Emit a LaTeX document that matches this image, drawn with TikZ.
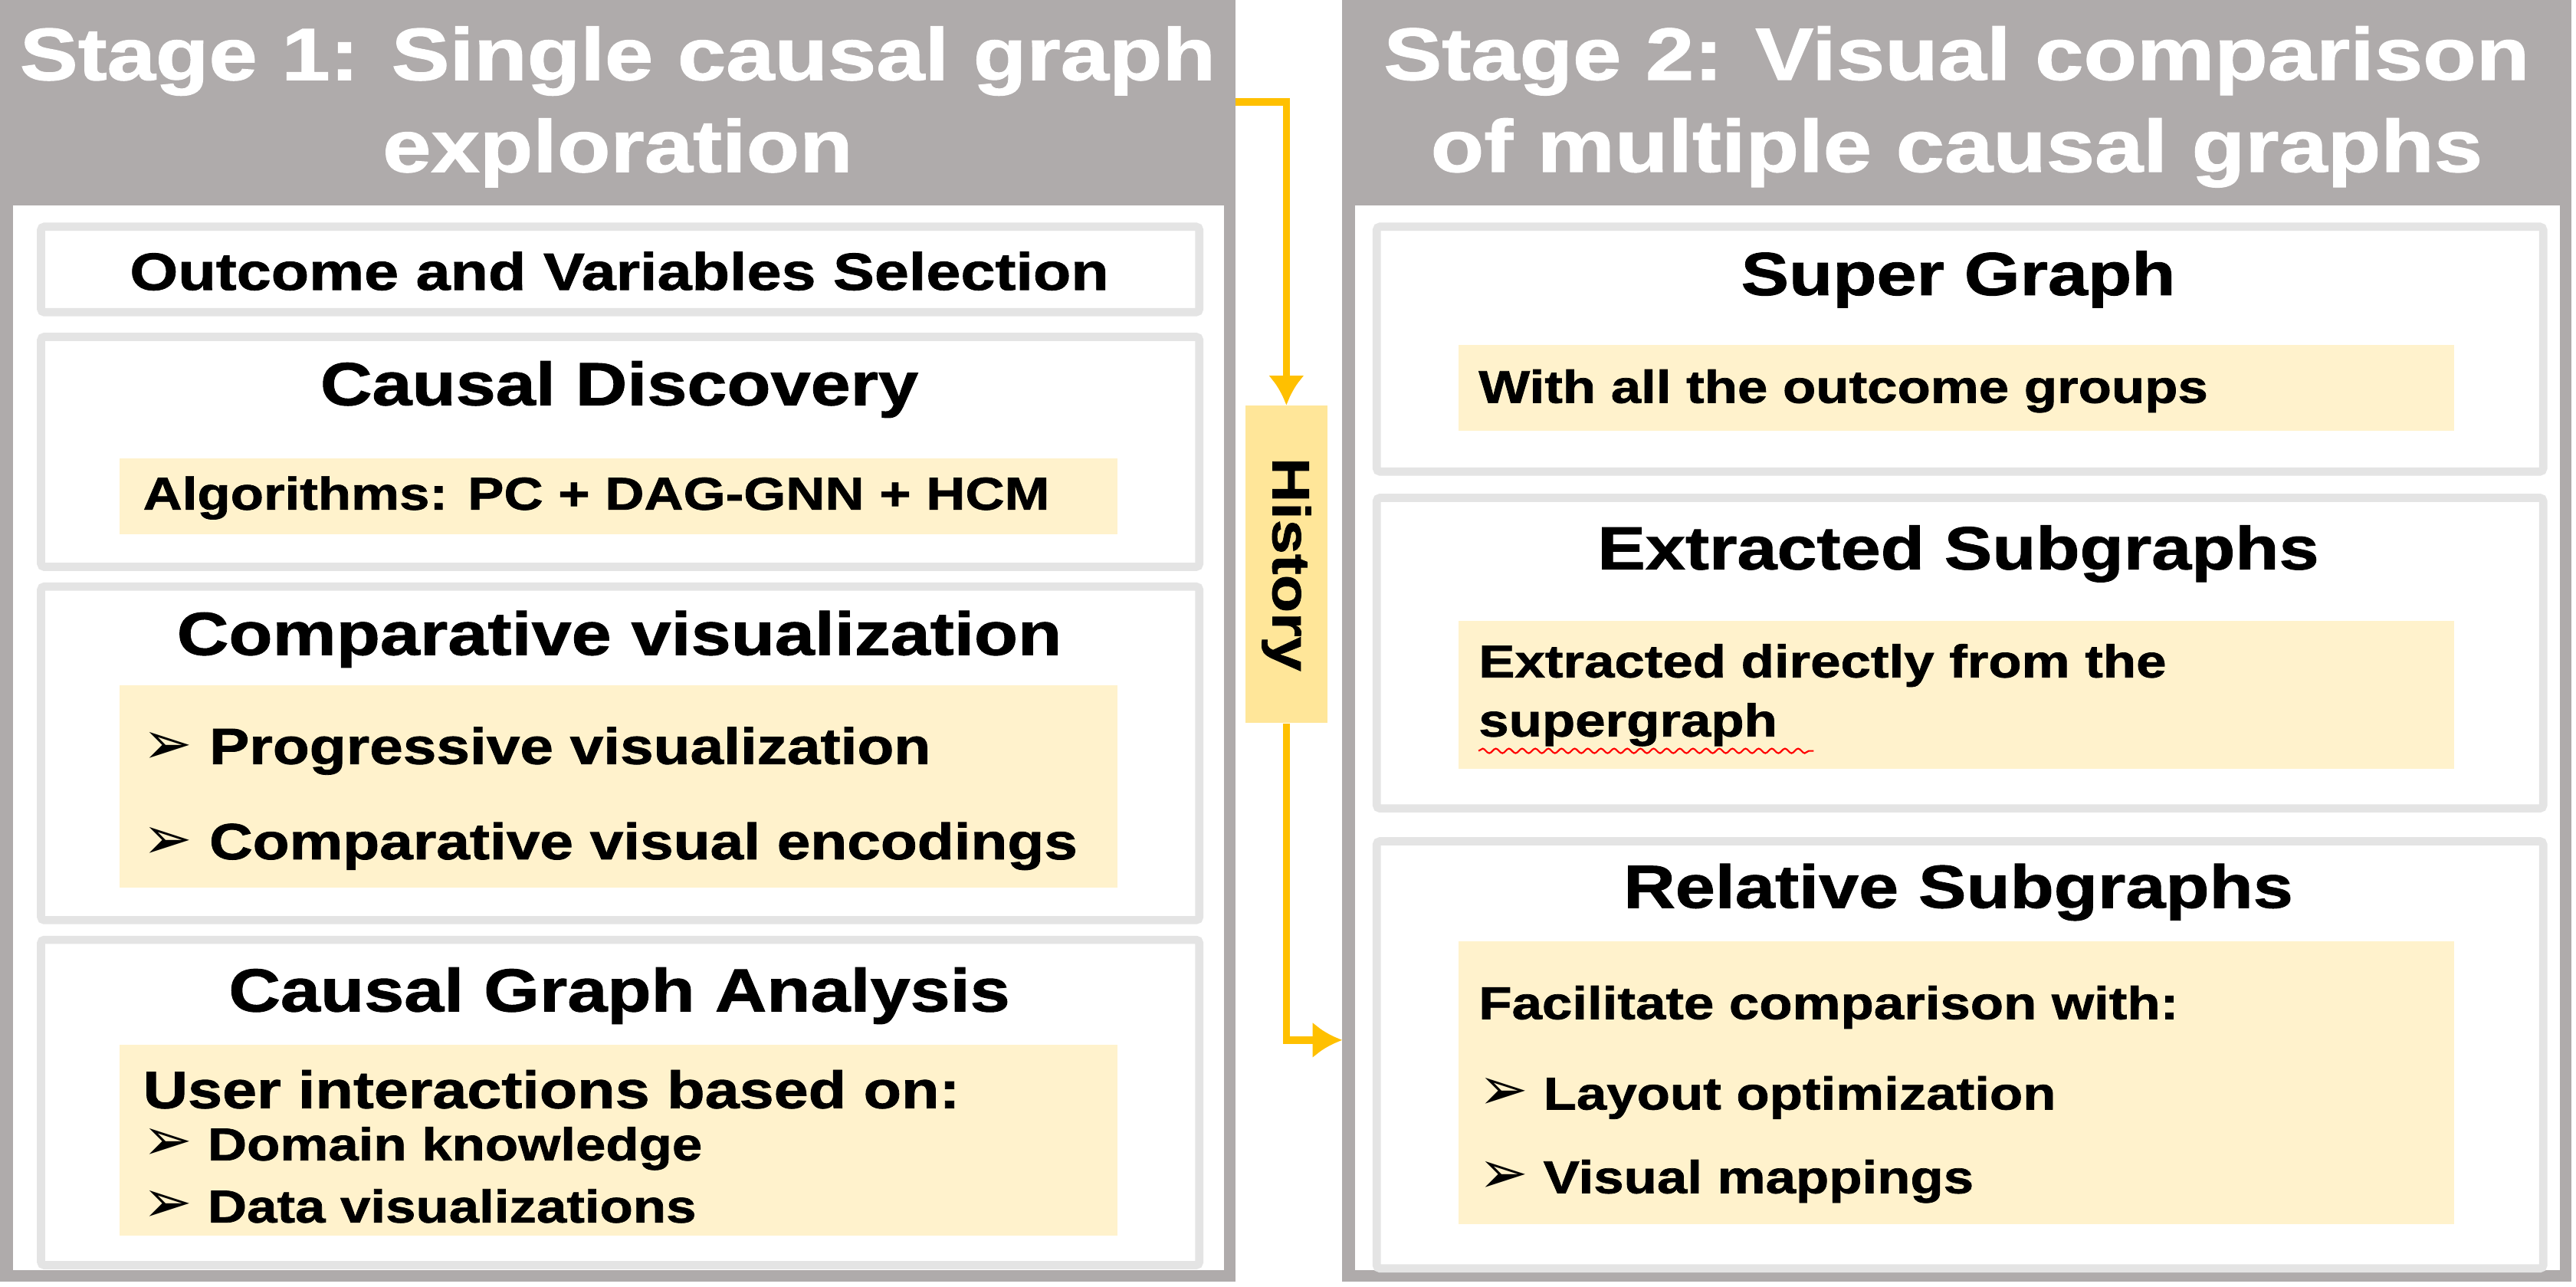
\documentclass[tikz,border=0pt]{standalone}
\usepackage{fontspec}
\setmainfont[FakeStretch=1.18,FakeBold=1.2]{Liberation Sans}
\newfontfamily\djv{DejaVu Sans}
\usetikzlibrary{decorations.pathmorphing}
\definecolor{hdr}{HTML}{AFABAB}
\definecolor{bx}{HTML}{E4E4E4}
\definecolor{yl}{HTML}{FFF2CC}
\definecolor{hist}{HTML}{FFE699}
\definecolor{arr}{HTML}{FFC000}
\tikzset{
 card/.style={draw=bx,line width=2.5pt,fill=white,rounded corners=1pt},
 hl/.style={fill=yl},
 hdrtxt/.style={text=white,font=\bfseries\fontsize{22.5}{28}\selectfont,align=center},
 ttl/.style={font=\bfseries\fontsize{18.5}{22}\selectfont},
 sub/.style={font=\bfseries\fontsize{14}{16}\selectfont,anchor=west},
 big/.style={font=\bfseries\fontsize{15.5}{18}\selectfont,anchor=west},
 harr/.style={draw=arr,line width=2.2pt,-{Latex[length=9pt,width=11pt]}},
}
\usetikzlibrary{arrows.meta}
\newcommand{\bul}{{\djv\fontsize{18}{18}\selectfont\char"27A2}\ }
\begin{document}
\begin{tikzpicture}[x=0.5pt,y=-0.5pt]
\useasboundingbox (0,0) rectangle (1568,783);
% left panel
\fill[hdr] (0,0) rectangle (752,780);
\fill[white] (8,125) rectangle (745,773);
\node[hdrtxt] (h1) at (376,65) {Stage 1: Single causal graph\\exploration};
\draw[card] (25,138) rectangle (730,190);
\node[font=\bfseries\fontsize{16}{18}\selectfont] (t0) at (377,165) {Outcome and Variables Selection};
\draw[card] (25,205) rectangle (730,345);
\node[ttl] (t1) at (377,237) {Causal Discovery};
\fill[hl] (73,279) rectangle (680,325);
\node[sub] (s1) at (80,303) {Algorithms: PC + DAG-GNN + HCM};
\draw[card] (25,357) rectangle (730,560);
\node[ttl] (t2) at (377,389) {Comparative visualization};
\fill[hl] (73,417) rectangle (680,540);
\node[big] (b1) at (80,457) {\bul Progressive visualization};
\node[big] (b2) at (80,515) {\bul Comparative visual encodings};
\draw[card] (25,572) rectangle (730,770);
\node[ttl] (t3) at (377,606) {Causal Graph Analysis};
\fill[hl] (73,636) rectangle (680,752);
\node[sub,font=\bfseries\fontsize{16}{18}\selectfont] (u0) at (80,663) {User interactions based on:};
\node[sub] (u1) at (80,699) {\bul Domain knowledge};
\node[sub] (u2) at (80,734) {\bul Data visualizations};
% right panel
\fill[hdr] (817,0) rectangle (1565,780);
\fill[white] (825,125) rectangle (1558,773);
\node[hdrtxt] (h2) at (1191,65) {Stage 2: Visual comparison\\of multiple causal graphs};
\draw[card] (838,138) rectangle (1548,287);
\node[ttl] (r1) at (1192,170) {Super Graph};
\fill[hl] (888,210) rectangle (1494,262);
\node[sub] (q1) at (893,238) {With all the outcome groups};
\draw[card] (838,303) rectangle (1548,492);
\node[ttl] (r2) at (1192,337) {Extracted Subgraphs};
\fill[hl] (888,378) rectangle (1494,468);
\node[sub] (q2) at (893,405) {Extracted directly from the};
\node[sub] (q3) at (893,441) {supergraph};
\draw[red,line width=0.5pt,decorate,decoration={snake,amplitude=0.7pt,segment length=4pt}] (900,457) -- (1104,457);
\draw[card] (838,512) rectangle (1548,772);
\node[ttl] (r3) at (1192,543) {Relative Subgraphs};
\fill[hl] (888,573) rectangle (1494,745);
\node[sub] (p0) at (893,613) {Facilitate comparison with:};
\node[sub] (p1) at (893,668) {\bul Layout optimization};
\node[sub] (p2) at (893,719) {\bul Visual mappings};
% history
\node[fill=hist,minimum width=25pt,minimum height=96.5pt,inner sep=0pt] (hb) at (783,343.5) {};
\node[rotate=-90,font=\bfseries\fontsize{16}{18}\selectfont] (ht) at (783,343.5) {History};
\coordinate (a0) at (752,62);
\coordinate (a2) at (817,633);
\draw[harr] (a0) -- (783,62) -- (hb.north);
\draw[harr] (hb.south) -- (783,633) -- (a2);
\end{tikzpicture}
\end{document}
